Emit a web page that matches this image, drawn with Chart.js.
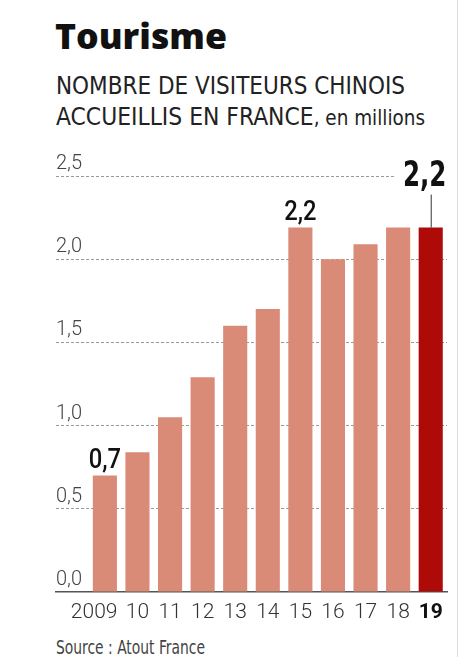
<!DOCTYPE html>
<html>
<head>
<meta charset="utf-8">
<script src="https://cdn.jsdelivr.net/npm/chart.js@4.4.1/dist/chart.umd.min.js"></script>
<style>
	html, body { margin: 0; padding: 0; background: #fff; }
	body { width: 460px; height: 664px; position: relative; overflow: hidden; }
	.narrow { font-family: "DejaVu Sans Condensed", "Liberation Sans Narrow", sans-serif; }
	.fit { transform-origin: 0 0; white-space: nowrap; }
	#title { position: absolute; left: 55px; top: 11px; font: 800 36px "Open Sans", sans-serif; color: #111; }
	.sub { position: absolute; left: 56px; font-size: 25px; color: #222; }
	#sub1 { top: 71px; }
	#sub2 { top: 102px; }
	#sub2 small { font-size: 21px; }
	#source { position: absolute; left: 56px; top: 636px; font-size: 19px; color: #444; }
	#wrap { position: absolute; left: 0; top: 140px; width: 460px; height: 490px; }
	#edge { position: absolute; left: 457px; top: 0; width: 1px; height: 657px; background: #ddd; }
</style>
</head>
<body>
<div id="title" class="fit">Tourisme</div>
<div id="sub1" class="sub narrow fit">NOMBRE DE VISITEURS CHINOIS</div>
<div id="sub2" class="sub narrow fit">ACCUEILLIS EN FRANCE<small>, en millions</small></div>
<div id="wrap"><canvas id="chart"></canvas></div>
<div id="source" class="narrow fit">Source : Atout France</div>
<div id="edge"></div>
<script>
const years = [2009, 2010, 2011, 2012, 2013, 2014, 2015, 2016, 2017, 2018, 2019]
const yearLabels = ['2009', '10', '11', '12', '13', '14', '15', '16', '17', '18', '19']
const visitors = [0.7, 0.84, 1.05, 1.29, 1.6, 1.7, 2.19, 2.0, 2.09, 2.19, 2.19]
const labelled = [2009, 2015, 2019]

const NARROW = '"DejaVu Sans Condensed", "Liberation Sans Narrow", sans-serif'
const fmt = (v) => v.toFixed(1).replace('.', ',')
const last = years[years.length - 1]

// squeeze the html texts to the widths of the original lettering
function fitWidth(id, width) {
	const el = document.getElementById(id)
	el.style.transform = 'scaleX(' + (width / el.getBoundingClientRect().width) + ')'
}
fitWidth('title', 172)
fitWidth('sub1', 349)
fitWidth('sub2', 369)
fitWidth('source', 149)

function narrowText(ctx, text, x, y, sx) {
	ctx.save()
	ctx.translate(x, y)
	ctx.scale(sx, 1)
	ctx.fillText(text, 0, 0)
	ctx.restore()
}

// value labels on top of some bars, the last one bigger with a small stem
const barLabels = {
	id: 'barLabels',
	afterDatasetsDraw(chart) {
		const ctx = chart.ctx
		const bars = chart.getDatasetMeta(0).data
		ctx.save()
		ctx.textAlign = 'center'
		ctx.textBaseline = 'alphabetic'
		years.forEach((year, i) => {
			if (!labelled.includes(year)) return
			const bar = bars[i]
			const text = fmt(visitors[i])
			if (year === last) {
				ctx.font = 'bold 35px ' + NARROW
				const w = ctx.measureText(text).width * 0.78
				const cx = bar.x - 6
				ctx.fillStyle = '#fff'
				ctx.fillRect(cx - w / 2 - 9, bar.y - 72, w + 18, 50)
				ctx.fillStyle = '#111'
				narrowText(ctx, text, cx, bar.y - 42, 0.78)
				ctx.strokeStyle = '#333'
				ctx.lineWidth = 1
				ctx.beginPath()
				ctx.moveTo(bar.x + 0.5, bar.y - 33)
				ctx.lineTo(bar.x + 0.5, bar.y)
				ctx.stroke()
			} else {
				ctx.font = '500 28px Roboto'
				ctx.fillStyle = '#111'
				narrowText(ctx, text, bar.x, bar.y - 8, 0.85)
			}
		})
		ctx.restore()
	}
}

new Chart(document.getElementById('chart'), {
	type: 'bar',
	data: {
		datasets: [{
			data: years.map((x, i) => ({ x: x, y: visitors[i] })),
			backgroundColor: years.map((x) => x === last ? '#ad0a08' : '#d98b78'),
			categoryPercentage: 1,
			barPercentage: 0.74
		}]
	},
	options: {
		responsive: true,
		maintainAspectRatio: false,
		animation: false,
		layout: { padding: { left: 56, right: 13, top: 36, bottom: 0 } },
		plugins: { legend: { display: false }, tooltip: { enabled: false } },
		scales: {
			x: {
				type: 'linear',
				min: years[0] - 1.5,
				max: last + 0.5,
				offset: false,
				grid: { display: false, drawTicks: false, offset: false },
				border: { display: true, color: '#555', width: 1.5 },
				afterBuildTicks: (scale) => { scale.ticks = years.map((v) => ({ value: v })) },
				afterFit: (scale) => { scale.height = 38 },
				ticks: {
					autoSkip: false,
					maxRotation: 0,
					padding: 8,
					// the long first label sits a bit to the left, like in print
					callback: (v) => v === years[0] ? yearLabels[0] + '\u2002\u2002' : yearLabels[years.indexOf(v)],
					color: (c) => c.tick && c.tick.value === last ? '#111' : '#333',
					font: (c) => ({ family: 'Roboto', size: 21, weight: c.tick && c.tick.value === last ? 'bold' : 300 })
				}
			},
			y: {
				min: 0,
				max: 2.5,
				grid: {
					drawTicks: false,
					color: (c) => c.tick && c.tick.value === 0 ? 'rgba(0,0,0,0)' : '#9a9a9a',
					lineWidth: 1
				},
				border: { display: false, dash: [3, 2] },
				afterFit: (scale) => { scale.width = 0 },
				ticks: {
					stepSize: 0.5,
					mirror: true,
					padding: 0,
					labelOffset: -12,
					color: '#444',
					font: { family: 'Roboto', size: 20, weight: 300 },
					callback: (v) => fmt(v)
				}
			}
		}
	},
	plugins: [barLabels]
});
</script>
</body>
</html>
